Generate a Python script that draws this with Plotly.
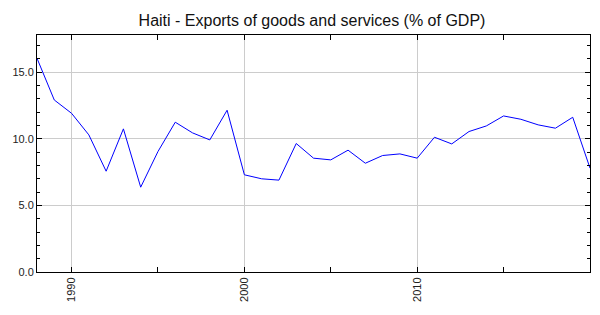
import plotly.graph_objects as go

years = list(range(1988, 2021))
exports = [16.05, 12.92, 11.92, 10.3, 7.57, 10.75, 6.37, 9.05, 11.25, 10.45,
           9.92, 12.15, 7.3, 7.0, 6.9, 9.65, 8.55, 8.42, 9.15, 8.17,
           8.75, 8.87, 8.55, 10.12, 9.62, 10.55, 10.97, 11.72, 11.47, 11.05,
           10.8, 11.62, 7.8]
title_text = "Haiti - Exports of goods and services (% of GDP)"
x_ticks = [1990, 2000, 2010]
y_ticks = [0, 5, 10, 15]

fig = go.Figure()
fig.add_trace(go.Scatter(x=years, y=exports, mode="lines",
                         line=dict(color="#0000ff", width=1), showlegend=False))

fig.update_layout(
    width=600, height=315,
    margin=dict(l=37, r=10, t=35, b=43),
    paper_bgcolor="white", plot_bgcolor="white",
    font=dict(family="Liberation Sans, Arial, sans-serif", size=11, color="#222"),
    title=dict(text=title_text, x=0.52, xanchor="center", y=0.935, yanchor="middle",
               font=dict(size=16, color="#111")),
)
fig.update_xaxes(range=[1988, 2020], tickvals=x_ticks, tickangle=-90,
                 ticks="inside", ticklen=5, tickcolor="black",
                 showline=True, linecolor="black", linewidth=1, mirror="ticks",
                 showgrid=True, gridcolor="#cccccc", gridwidth=1, zeroline=False,
                 minor=dict(tickvals=[1995, 2005, 2015], ticks="inside", ticklen=5,
                            tickcolor="black", showgrid=False))
fig.update_yaxes(range=[0, 17.8], tickvals=y_ticks, tickformat=".1f",
                 ticks="inside", ticklen=5, tickcolor="black",
                 showline=True, linecolor="black", linewidth=1, mirror="ticks",
                 showgrid=True, gridcolor="#cccccc", gridwidth=1, zeroline=False,
                 minor=dict(dtick=1, ticks="inside", ticklen=3, tickcolor="black",
                            showgrid=False))

fig.write_html("out.html")
